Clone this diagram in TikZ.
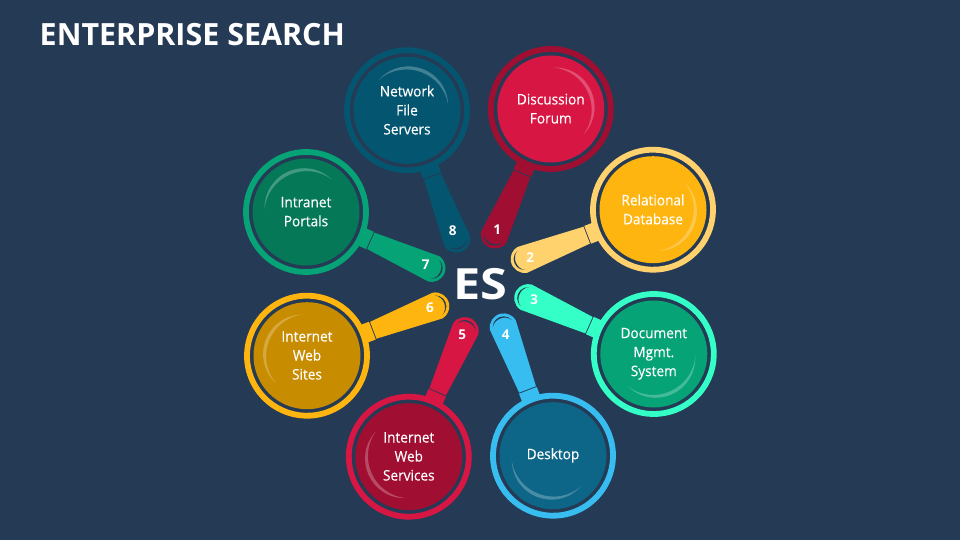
\documentclass[tikz,border=0pt]{standalone}
\usepackage{fontspec}
\setmainfont{Open Sans}
\newfontfamily\labelfont[FakeStretch=0.94, FakeBold=0.25]{Open Sans}
\newfontfamily\titlefont[FakeStretch=0.995]{Open Sans}
\newfontfamily\esfont[FakeStretch=1.13]{Open Sans}
\definecolor{cbg}{RGB}{37,58,84}
\definecolor{ring1}{RGB}{160,14,50}
\definecolor{disc1}{RGB}{215,22,68}
\definecolor{ring2}{RGB}{255,210,110}
\definecolor{disc2}{RGB}{255,181,15}
\definecolor{ring3}{RGB}{51,255,198}
\definecolor{disc3}{RGB}{5,163,118}
\definecolor{ring4}{RGB}{56,189,240}
\definecolor{disc4}{RGB}{13,102,135}
\definecolor{ring5}{RGB}{215,22,68}
\definecolor{disc5}{RGB}{160,14,50}
\definecolor{ring6}{RGB}{255,181,15}
\definecolor{disc6}{RGB}{200,140,0}
\definecolor{ring7}{RGB}{5,163,118}
\definecolor{disc7}{RGB}{5,120,88}
\definecolor{ring8}{RGB}{4,86,112}
\definecolor{disc8}{RGB}{4,86,112}
\tikzstyle{title}=[white, anchor=west, inner sep=0, font=\titlefont\fontsize{30.6}{31}\selectfont\bfseries]
\tikzstyle{centre}=[white, inner sep=0, font=\esfont\fontsize{43}{43}\selectfont\bfseries]
\tikzstyle{lens}=[white, circle, inner sep=0, outer sep=0, minimum size=107pt, align=center, font=\labelfont\fontsize{14.5}{19}\selectfont]
\tikzstyle{num}=[white, inner sep=0, font=\fontsize{13.5}{13.5}\selectfont\bfseries]
\tikzstyle{shine}=[white, opacity=0.25]
\begin{document}
\begin{tikzpicture}[x=1pt, y=-1pt]
  \fill [cbg] (0,0) rectangle (960,540);
  \node [title] (heading) at (39.5,35) {ENTERPRISE SEARCH};
  \node [centre] (es) at (480.5,284) {ES};

  \foreach \n/\cx/\cy/\ang/\numx/\numy/\txt in {
    1/550.8/109/246/497.3/230/{Discussion\\Forum},
    2/653/209.7/201/530.3/257.7/{Relational\\Database},
    3/653.8/354/156/534.3/300/{Document\\Mgmt.\\System},
    4/553/455.7/111/505.7/335/{Desktop},
    5/408.8/456.7/66/462.3/335/{Internet\\Web\\Services},
    6/307/355.7/21/430/307.7/{Internet\\Web\\Sites},
    7/306/212/-24/425.7/265/{Intranet\\Portals},
    8/407/110.3/-69/452.7/230.7/{Network\\File\\Servers}} {
    \begin{scope}[shift={(\cx,\cy)}, rotate=\ang]
      % collar and handle
      \fill [ring\n] (60,-9.5) rectangle (70,9.5);
      \fill [ring\n] (71,-9) -- (139.9,-13.8) arc [start angle=-80, end angle=80, radius=14] -- (71,9) -- cycle;
      % crescent at the tip
      \fill [cbg] (141.26,-10.34) arc [start angle=-70, end angle=70, radius=11] .. controls (148.9,6) and (148.9,-6) .. cycle;
      \draw [ring\n, line width=5.8pt, fill=cbg] (0,0) circle [radius=60];
      \node [lens, fill=disc\n] (lens\n) at (0,0) {};
      \fill [shine] (-201.5:41.5) .. controls (-162.25:57.5) and (-114.75:57.5) .. (-75.5:41.5)
        .. controls (-114.75:52.5) and (-162.25:52.5) .. cycle;
    \end{scope}
    \node [lens] (label\n) at (\cx,\cy-0.3) {\txt};
    \node [num] (num\n) at (\numx,\numy) {\n};
  }
\end{tikzpicture}
\end{document}
